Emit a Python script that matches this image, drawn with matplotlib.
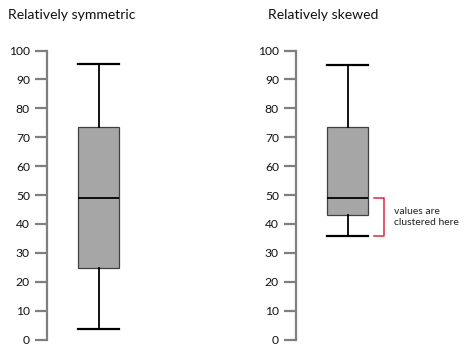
import matplotlib
matplotlib.use("Agg")
import matplotlib.pyplot as plt

plt.rcParams['font.family'] = ['Lato', 'DejaVu Sans']

# five-number summaries
titles = ["Relatively symmetric", "Relatively skewed"]
whisker_low = [3.8, 35.8]
q1 = [24.6, 43.0]
median = [49.1, 48.8]
q3 = [73.6, 73.4]
whisker_high = [95.5, 95.0]
yticks = [0, 10, 20, 30, 40, 50, 60, 70, 80, 90, 100]
note = "values are\nclustered here"

W, H = 474, 349
fig = plt.figure(figsize=(W / 100, H / 100), dpi=100)

spine_x = [47, 296]
title_x = [8, 268]
grey = "#7f7f7f"

for i in range(2):
    ax = fig.add_axes([spine_x[i] / W, 9.5 / H, 100 / W, 289 / H])
    stats = [dict(whislo=whisker_low[i], q1=q1[i], med=median[i],
                  q3=q3[i], whishi=whisker_high[i], fliers=[])]
    ax.bxp(stats, positions=[0.515], widths=0.41, patch_artist=True,
           showfliers=False,
           boxprops=dict(facecolor="#a6a6a6", edgecolor="#404040", linewidth=0.9),
           medianprops=dict(color="black", linewidth=1.3),
           whiskerprops=dict(color="black", linewidth=1.3),
           capprops=dict(color="black", linewidth=1.6),
           capwidths=0.41)
    ax.set_xlim(0, 1)
    ax.set_ylim(0, 100)
    ax.set_yticks(yticks)
    ax.set_xticks([])
    for s in ["top", "right", "bottom"]:
        ax.spines[s].set_visible(False)
    ax.spines["left"].set_color(grey)
    ax.spines["left"].set_linewidth(1.6)
    ax.tick_params(axis="y", direction="out", length=8.5, width=1.6,
                   color=grey, pad=3.8, labelsize=8.7, labelcolor="#111111")
    ax.patch.set_visible(False)
    fig.text(title_x[i] / W, 1 - 19.3 / H, titles[i], fontsize=10.1,
             va="baseline", ha="left", color="#111111")

    if i == 1:
        # red bracket marking the cluster between whisker low and median
        bx0, bx1 = 0.775, 0.88
        ax.plot([bx0, bx1, bx1, bx0],
                [median[i], median[i], whisker_low[i], whisker_low[i]],
                color="#e0283c", linewidth=1.1, clip_on=False,
                solid_joinstyle="round")
        ax.text(0.985, (median[i] + whisker_low[i]) / 2, note, fontsize=7.5,
                va="center", ha="left", color="#222222", linespacing=1.35,
                clip_on=False)

fig.savefig("out.png", dpi=100)
